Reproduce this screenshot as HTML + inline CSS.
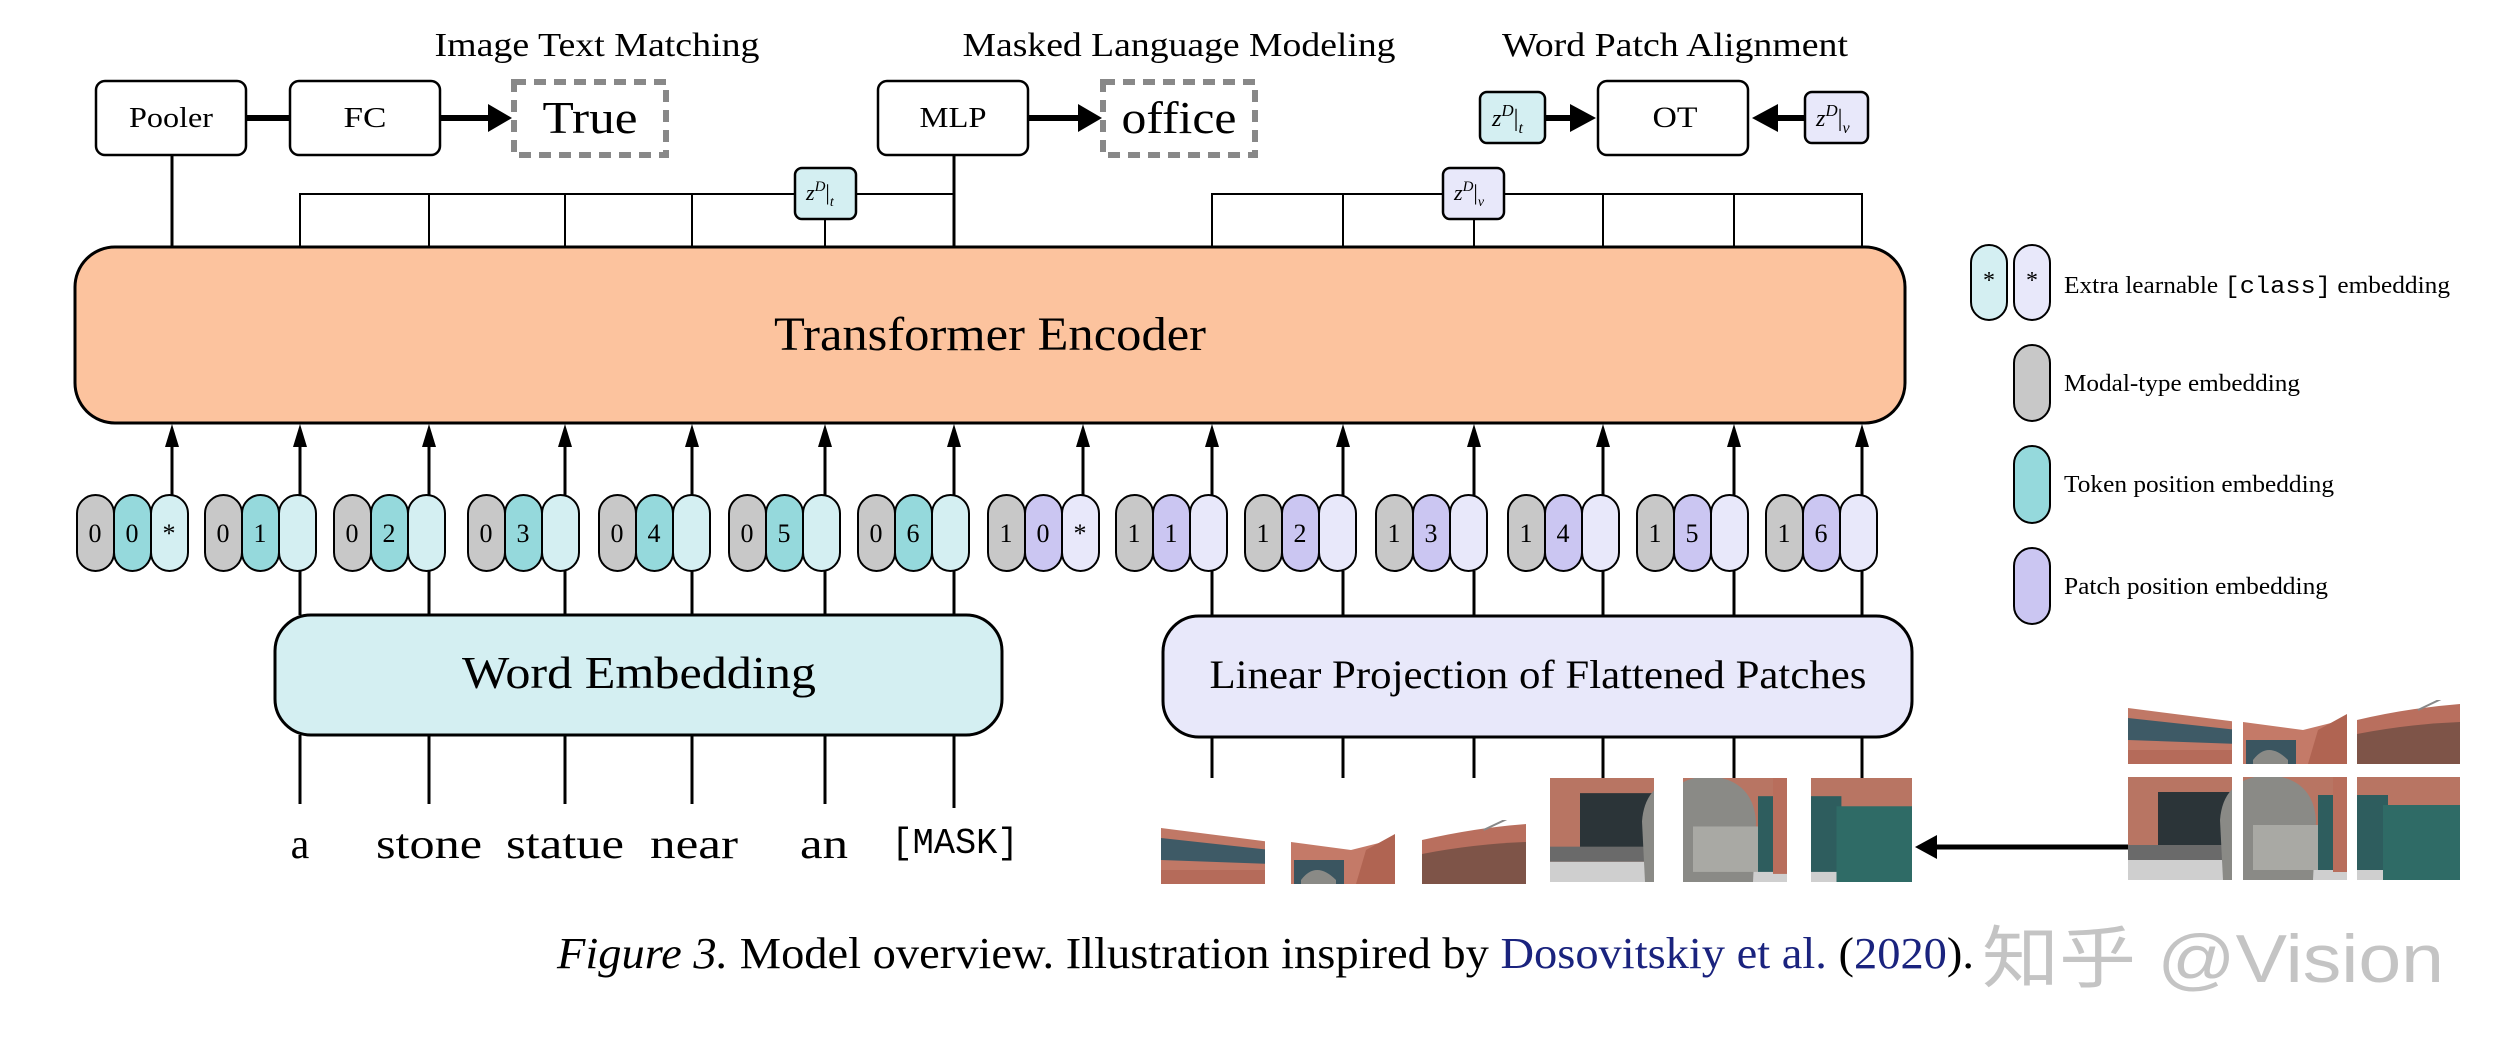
<!DOCTYPE html>
<html><head><meta charset="utf-8"><style>
html,body{margin:0;padding:0;background:#fff;}
svg{display:block;}
text{font-family:"Liberation Serif","Times New Roman","Noto Serif CJK SC",serif;fill:#000;}
</style></head><body>
<svg width="2508" height="1060" viewBox="0 0 2508 1060" xmlns="http://www.w3.org/2000/svg">
<defs>
<g id="scene">
  <rect x="0" y="0" width="332" height="180" fill="#fff"/>
  <polygon points="0,8 110,22 110,64 0,64" fill="#c07866"/>
  <polygon points="0,18 110,30 110,44 0,40" fill="#3e5a66"/>
  <rect x="0" y="50" width="110" height="14" fill="#b56b5a"/>
  <polygon points="115,22 175,30 215,20 219,64 115,64" fill="#c47a68"/>
  <rect x="118" y="40" width="50" height="24" fill="#3a5560"/>
  <polygon points="180,64 190,30 219,14 219,64" fill="#b06452"/>
  <path d="M229,20 Q280,8 332,4 L332,64 L229,64 Z" fill="#b96f5e"/>
  <path d="M229,34 Q280,24 332,22 L332,64 L229,64 Z" fill="#7e5448"/>
  <line x1="290" y1="10" x2="332" y2="-10" stroke="#888" stroke-width="2"/>
  <rect x="0" y="77" width="332" height="103" fill="#b87563"/>
  <rect x="30" y="92" width="75" height="55" fill="#2b3438"/>
  <rect x="0" y="145" width="332" height="15" fill="#6a6a6a"/>
  <rect x="0" y="160" width="332" height="20" fill="#cfcfcf"/>
  <rect x="190" y="95" width="70" height="75" fill="#2e5d5e"/>
  <rect x="255" y="105" width="77" height="75" fill="#2f6b66"/>
  <rect x="205" y="77" width="20" height="95" fill="#b86e5c"/>
  <path d="M95,180 L92,120 Q95,78 140,75 Q185,78 188,120 L185,180 Z" fill="#8a8a86"/>
  <rect x="125" y="125" width="65" height="45" fill="#a9a9a4"/>
  <path d="M125,60 Q140,40 160,60 L160,64 L125,64 Z" fill="#8a8a86"/>
</g>
</defs>

<text x="597" y="56" font-size="34" text-anchor="middle" textLength="325" lengthAdjust="spacingAndGlyphs">Image Text Matching</text>
<text x="1179" y="56" font-size="34" text-anchor="middle" textLength="433" lengthAdjust="spacingAndGlyphs">Masked Language Modeling</text>
<text x="1675" y="56" font-size="34" text-anchor="middle" textLength="346" lengthAdjust="spacingAndGlyphs">Word Patch Alignment</text>

<g stroke="#000" stroke-width="2.5" fill="#fff">
  <rect x="96" y="81" width="150" height="74" rx="9"/>
  <rect x="290" y="81" width="150" height="74" rx="9"/>
  <rect x="878" y="81" width="150" height="74" rx="9"/>
  <rect x="1598" y="81" width="150" height="74" rx="9"/>
</g>
<text x="171" y="127" font-size="28" text-anchor="middle" textLength="84" lengthAdjust="spacingAndGlyphs">Pooler</text>
<text x="365" y="127" font-size="28" text-anchor="middle" textLength="43" lengthAdjust="spacingAndGlyphs">FC</text>
<text x="953" y="127" font-size="28" text-anchor="middle" textLength="67" lengthAdjust="spacingAndGlyphs">MLP</text>
<text x="1675" y="127" font-size="30" text-anchor="middle" textLength="45" lengthAdjust="spacingAndGlyphs">OT</text>
<g stroke="#888" stroke-width="6" fill="none" stroke-dasharray="12,8">
  <rect x="514" y="82" width="152" height="73"/>
  <rect x="1103" y="82" width="152" height="73"/>
</g>
<text x="590" y="133" font-size="46" text-anchor="middle" textLength="95" lengthAdjust="spacingAndGlyphs">True</text>
<text x="1179" y="133" font-size="46" text-anchor="middle" textLength="115" lengthAdjust="spacingAndGlyphs">office</text>

<g stroke="#000" stroke-width="6">
  <line x1="246" y1="118" x2="290" y2="118"/>
  <line x1="440" y1="118" x2="490" y2="118"/>
  <line x1="1029" y1="118" x2="1080" y2="118"/>
  <line x1="1545" y1="118" x2="1570" y2="118"/>
  <line x1="1805" y1="118" x2="1778" y2="118"/>
</g>
<g fill="#000">
  <polygon points="488,104 512,118 488,132"/>
  <polygon points="1078,104 1102,118 1078,132"/>
  <polygon points="1570,104 1596,118 1570,132"/>
  <polygon points="1778,104 1752,118 1778,132"/>
</g>
<rect x="1480" y="92" width="65" height="51" rx="7" fill="#d4eff2" stroke="#000" stroke-width="2.5"/>
<text x="1492" y="126" font-size="24" font-style="italic">z<tspan dy="-10" font-size="17">D</tspan><tspan dy="10" font-style="normal">|</tspan><tspan dy="7" font-size="16">t</tspan></text>
<rect x="1805" y="92" width="63" height="51" rx="7" fill="#e8e8fa" stroke="#000" stroke-width="2.5"/>
<text x="1816" y="126" font-size="24" font-style="italic">z<tspan dy="-10" font-size="17">D</tspan><tspan dy="10" font-style="normal">|</tspan><tspan dy="7" font-size="16">v</tspan></text>

<g stroke="#000" stroke-width="2" fill="none">
  <line x1="172" y1="155" x2="172" y2="246" stroke-width="3"/>
  <line x1="954" y1="155" x2="954" y2="246" stroke-width="3"/>
  <polyline points="300,246 300,194 954,194"/>
  <line x1="429" y1="194" x2="429" y2="246"/>
  <line x1="565" y1="194" x2="565" y2="246"/>
  <line x1="692" y1="194" x2="692" y2="246"/>
  <line x1="825" y1="194" x2="825" y2="246"/>
  <polyline points="1212,246 1212,194 1862,194 1862,246"/>
  <line x1="1343" y1="194" x2="1343" y2="246"/>
  <line x1="1474" y1="194" x2="1474" y2="246"/>
  <line x1="1603" y1="194" x2="1603" y2="246"/>
  <line x1="1734" y1="194" x2="1734" y2="246"/>
</g>
<rect x="795" y="168" width="61" height="51" rx="7" fill="#d4eff2" stroke="#000" stroke-width="2.5"/>
<text x="806" y="200" font-size="22" font-style="italic">z<tspan dy="-9" font-size="15">D</tspan><tspan dy="9" font-style="normal">|</tspan><tspan dy="6" font-size="14">t</tspan></text>
<rect x="1443" y="168" width="61" height="51" rx="7" fill="#e8e8fa" stroke="#000" stroke-width="2.5"/>
<text x="1454" y="200" font-size="22" font-style="italic">z<tspan dy="-9" font-size="15">D</tspan><tspan dy="9" font-style="normal">|</tspan><tspan dy="6" font-size="14">v</tspan></text>

<rect x="75" y="247" width="1830" height="176" rx="40" fill="#fcc39e" stroke="#000" stroke-width="3"/>
<text x="990" y="350" font-size="48" text-anchor="middle" textLength="432" lengthAdjust="spacingAndGlyphs">Transformer Encoder</text>

<g stroke="#000" stroke-width="3">
  <line x1="172" y1="440" x2="172" y2="496"/><line x1="300" y1="440" x2="300" y2="496"/>
  <line x1="429" y1="440" x2="429" y2="496"/><line x1="565" y1="440" x2="565" y2="496"/>
  <line x1="692" y1="440" x2="692" y2="496"/><line x1="825" y1="440" x2="825" y2="496"/>
  <line x1="954" y1="440" x2="954" y2="496"/><line x1="1083" y1="440" x2="1083" y2="496"/>
  <line x1="1212" y1="440" x2="1212" y2="496"/><line x1="1343" y1="440" x2="1343" y2="496"/>
  <line x1="1474" y1="440" x2="1474" y2="496"/><line x1="1603" y1="440" x2="1603" y2="496"/>
  <line x1="1734" y1="440" x2="1734" y2="496"/><line x1="1862" y1="440" x2="1862" y2="496"/>
</g>
<g fill="#000">
  <polygon points="172,424 165,447 179,447"/><polygon points="300,424 293,447 307,447"/>
  <polygon points="429,424 422,447 436,447"/><polygon points="565,424 558,447 572,447"/>
  <polygon points="692,424 685,447 699,447"/><polygon points="825,424 818,447 832,447"/>
  <polygon points="954,424 947,447 961,447"/><polygon points="1083,424 1076,447 1090,447"/>
  <polygon points="1212,424 1205,447 1219,447"/><polygon points="1343,424 1336,447 1350,447"/>
  <polygon points="1474,424 1467,447 1481,447"/><polygon points="1603,424 1596,447 1610,447"/>
  <polygon points="1734,424 1727,447 1741,447"/><polygon points="1862,424 1855,447 1869,447"/>
</g>

<g stroke="#000" stroke-width="2">
  <rect x="77" y="495" width="37" height="76" rx="18.5" fill="#c8c8c8"/><rect x="114" y="495" width="37" height="76" rx="18.5" fill="#95d9dc"/><rect x="151" y="495" width="37" height="76" rx="18.5" fill="#d4eff2"/>
  <rect x="205" y="495" width="37" height="76" rx="18.5" fill="#c8c8c8"/><rect x="242" y="495" width="37" height="76" rx="18.5" fill="#95d9dc"/><rect x="279" y="495" width="37" height="76" rx="18.5" fill="#d4eff2"/>
  <rect x="334" y="495" width="37" height="76" rx="18.5" fill="#c8c8c8"/><rect x="371" y="495" width="37" height="76" rx="18.5" fill="#95d9dc"/><rect x="408" y="495" width="37" height="76" rx="18.5" fill="#d4eff2"/>
  <rect x="468" y="495" width="37" height="76" rx="18.5" fill="#c8c8c8"/><rect x="505" y="495" width="37" height="76" rx="18.5" fill="#95d9dc"/><rect x="542" y="495" width="37" height="76" rx="18.5" fill="#d4eff2"/>
  <rect x="599" y="495" width="37" height="76" rx="18.5" fill="#c8c8c8"/><rect x="636" y="495" width="37" height="76" rx="18.5" fill="#95d9dc"/><rect x="673" y="495" width="37" height="76" rx="18.5" fill="#d4eff2"/>
  <rect x="729" y="495" width="37" height="76" rx="18.5" fill="#c8c8c8"/><rect x="766" y="495" width="37" height="76" rx="18.5" fill="#95d9dc"/><rect x="803" y="495" width="37" height="76" rx="18.5" fill="#d4eff2"/>
  <rect x="858" y="495" width="37" height="76" rx="18.5" fill="#c8c8c8"/><rect x="895" y="495" width="37" height="76" rx="18.5" fill="#95d9dc"/><rect x="932" y="495" width="37" height="76" rx="18.5" fill="#d4eff2"/>
  <rect x="988" y="495" width="37" height="76" rx="18.5" fill="#c8c8c8"/><rect x="1025" y="495" width="37" height="76" rx="18.5" fill="#cbc6f2"/><rect x="1062" y="495" width="37" height="76" rx="18.5" fill="#e8e8fa"/>
  <rect x="1116" y="495" width="37" height="76" rx="18.5" fill="#c8c8c8"/><rect x="1153" y="495" width="37" height="76" rx="18.5" fill="#cbc6f2"/><rect x="1190" y="495" width="37" height="76" rx="18.5" fill="#e8e8fa"/>
  <rect x="1245" y="495" width="37" height="76" rx="18.5" fill="#c8c8c8"/><rect x="1282" y="495" width="37" height="76" rx="18.5" fill="#cbc6f2"/><rect x="1319" y="495" width="37" height="76" rx="18.5" fill="#e8e8fa"/>
  <rect x="1376" y="495" width="37" height="76" rx="18.5" fill="#c8c8c8"/><rect x="1413" y="495" width="37" height="76" rx="18.5" fill="#cbc6f2"/><rect x="1450" y="495" width="37" height="76" rx="18.5" fill="#e8e8fa"/>
  <rect x="1508" y="495" width="37" height="76" rx="18.5" fill="#c8c8c8"/><rect x="1545" y="495" width="37" height="76" rx="18.5" fill="#cbc6f2"/><rect x="1582" y="495" width="37" height="76" rx="18.5" fill="#e8e8fa"/>
  <rect x="1637" y="495" width="37" height="76" rx="18.5" fill="#c8c8c8"/><rect x="1674" y="495" width="37" height="76" rx="18.5" fill="#cbc6f2"/><rect x="1711" y="495" width="37" height="76" rx="18.5" fill="#e8e8fa"/>
  <rect x="1766" y="495" width="37" height="76" rx="18.5" fill="#c8c8c8"/><rect x="1803" y="495" width="37" height="76" rx="18.5" fill="#cbc6f2"/><rect x="1840" y="495" width="37" height="76" rx="18.5" fill="#e8e8fa"/>
</g>
<g font-size="26" text-anchor="middle">
  <text x="95" y="542">0</text><text x="132" y="542">0</text><text x="169" y="542">*</text>
  <text x="223" y="542">0</text><text x="260" y="542">1</text>
  <text x="352" y="542">0</text><text x="389" y="542">2</text>
  <text x="486" y="542">0</text><text x="523" y="542">3</text>
  <text x="617" y="542">0</text><text x="654" y="542">4</text>
  <text x="747" y="542">0</text><text x="784" y="542">5</text>
  <text x="876" y="542">0</text><text x="913" y="542">6</text>
  <text x="1006" y="542">1</text><text x="1043" y="542">0</text><text x="1080" y="542">*</text>
  <text x="1134" y="542">1</text><text x="1171" y="542">1</text>
  <text x="1263" y="542">1</text><text x="1300" y="542">2</text>
  <text x="1394" y="542">1</text><text x="1431" y="542">3</text>
  <text x="1526" y="542">1</text><text x="1563" y="542">4</text>
  <text x="1655" y="542">1</text><text x="1692" y="542">5</text>
  <text x="1784" y="542">1</text><text x="1821" y="542">6</text>
</g>

<g stroke="#000" stroke-width="3">
  <line x1="300" y1="571" x2="300" y2="615"/><line x1="429" y1="571" x2="429" y2="615"/>
  <line x1="565" y1="571" x2="565" y2="615"/><line x1="692" y1="571" x2="692" y2="615"/>
  <line x1="825" y1="571" x2="825" y2="615"/><line x1="954" y1="571" x2="954" y2="615"/>
  <line x1="300" y1="735" x2="300" y2="804"/><line x1="429" y1="735" x2="429" y2="804"/>
  <line x1="565" y1="735" x2="565" y2="804"/><line x1="692" y1="735" x2="692" y2="804"/>
  <line x1="825" y1="735" x2="825" y2="804"/><line x1="954" y1="735" x2="954" y2="808"/>
  <line x1="1212" y1="571" x2="1212" y2="616"/><line x1="1343" y1="571" x2="1343" y2="616"/>
  <line x1="1474" y1="571" x2="1474" y2="616"/><line x1="1603" y1="571" x2="1603" y2="616"/>
  <line x1="1734" y1="571" x2="1734" y2="616"/><line x1="1862" y1="571" x2="1862" y2="616"/>
  <line x1="1212" y1="737" x2="1212" y2="778"/><line x1="1343" y1="737" x2="1343" y2="778"/>
  <line x1="1474" y1="737" x2="1474" y2="778"/><line x1="1603" y1="737" x2="1603" y2="778"/>
  <line x1="1734" y1="737" x2="1734" y2="778"/><line x1="1862" y1="737" x2="1862" y2="778"/>
</g>
<rect x="275" y="615" width="727" height="120" rx="36" fill="#d4eff2" stroke="#000" stroke-width="3"/>
<text x="639" y="688" font-size="46" text-anchor="middle" textLength="354" lengthAdjust="spacingAndGlyphs">Word Embedding</text>
<rect x="1163" y="616" width="749" height="121" rx="36" fill="#e8e8fa" stroke="#000" stroke-width="3"/>
<text x="1538" y="688" font-size="40" text-anchor="middle" textLength="657" lengthAdjust="spacingAndGlyphs">Linear Projection of Flattened Patches</text>

<g font-size="42" text-anchor="middle">
  <text x="300" y="858">a</text>
  <text x="429" y="858" textLength="106" lengthAdjust="spacingAndGlyphs">stone</text>
  <text x="565" y="858" textLength="118" lengthAdjust="spacingAndGlyphs">statue</text>
  <text x="694" y="858" textLength="88" lengthAdjust="spacingAndGlyphs">near</text>
  <text x="824" y="858" textLength="48" lengthAdjust="spacingAndGlyphs">an</text>
</g>
<text x="955" y="853" font-size="36" text-anchor="middle" font-family="Liberation Mono, monospace" style="font-family:'Liberation Mono',monospace" textLength="127" lengthAdjust="spacingAndGlyphs">[MASK]</text>

<svg x="1161" y="820" width="104" height="64" viewBox="0 0 104 64" preserveAspectRatio="none"><use href="#scene"/></svg>
<svg x="1291" y="820" width="104" height="64" viewBox="115 0 104 64" preserveAspectRatio="none"><use href="#scene"/></svg>
<svg x="1422" y="820" width="104" height="64" viewBox="229 0 103 64" preserveAspectRatio="none"><use href="#scene"/></svg>
<svg x="1550" y="778" width="104" height="104" viewBox="0 77 104 103" preserveAspectRatio="none"><use href="#scene"/></svg>
<svg x="1683" y="778" width="104" height="104" viewBox="115 77 104 103" preserveAspectRatio="none"><use href="#scene"/></svg>
<svg x="1811" y="778" width="101" height="104" viewBox="229 77 103 103" preserveAspectRatio="none"><use href="#scene"/></svg>

<svg x="2128" y="700" width="104" height="64" viewBox="0 0 104 64" preserveAspectRatio="none"><use href="#scene"/></svg>
<svg x="2243" y="700" width="104" height="64" viewBox="115 0 104 64" preserveAspectRatio="none"><use href="#scene"/></svg>
<svg x="2357" y="700" width="103" height="64" viewBox="229 0 103 64" preserveAspectRatio="none"><use href="#scene"/></svg>
<svg x="2128" y="777" width="104" height="103" viewBox="0 77 104 103" preserveAspectRatio="none"><use href="#scene"/></svg>
<svg x="2243" y="777" width="104" height="103" viewBox="115 77 104 103" preserveAspectRatio="none"><use href="#scene"/></svg>
<svg x="2357" y="777" width="103" height="103" viewBox="229 77 103 103" preserveAspectRatio="none"><use href="#scene"/></svg>

<line x1="2128" y1="847" x2="1935" y2="847" stroke="#000" stroke-width="5"/>
<polygon points="1915,847 1937,835 1937,859" fill="#000"/>

<g stroke="#000" stroke-width="2">
  <rect x="1971" y="245" width="36" height="75" rx="18" fill="#d4eff2"/>
  <rect x="2014" y="245" width="36" height="75" rx="18" fill="#e8e8fa"/>
  <rect x="2014" y="345" width="36" height="76" rx="18" fill="#c8c8c8"/>
  <rect x="2014" y="446" width="36" height="77" rx="18" fill="#95d9dc"/>
  <rect x="2014" y="548" width="36" height="76" rx="18" fill="#cbc6f2"/>
</g>
<text x="1989" y="288" font-size="24" text-anchor="middle">*</text>
<text x="2032" y="288" font-size="24" text-anchor="middle">*</text>
<g font-size="24">
  <text x="2064" y="293" textLength="386" lengthAdjust="spacingAndGlyphs">Extra learnable <tspan style="font-family:'Liberation Mono',monospace">[class]</tspan> embedding</text>
  <text x="2064" y="391" textLength="236" lengthAdjust="spacingAndGlyphs">Modal-type embedding</text>
  <text x="2064" y="492" textLength="270" lengthAdjust="spacingAndGlyphs">Token position embedding</text>
  <text x="2064" y="594" textLength="264" lengthAdjust="spacingAndGlyphs">Patch position embedding</text>
</g>

<text x="557" y="968" font-size="44" textLength="1417" lengthAdjust="spacingAndGlyphs"><tspan font-style="italic">Figure 3.</tspan> Model overview. Illustration inspired by <tspan fill="#1a237e" style="fill:#1a237e">Dosovitskiy et al.</tspan> (<tspan fill="#1a237e" style="fill:#1a237e">2020</tspan>).</text>
<text x="1982" y="982" font-size="68" style="fill:#c4c4c4;font-family:'Liberation Sans','Noto Sans CJK SC',sans-serif" textLength="462" lengthAdjust="spacingAndGlyphs">知乎 @Vision</text>
</svg>
</body></html>
